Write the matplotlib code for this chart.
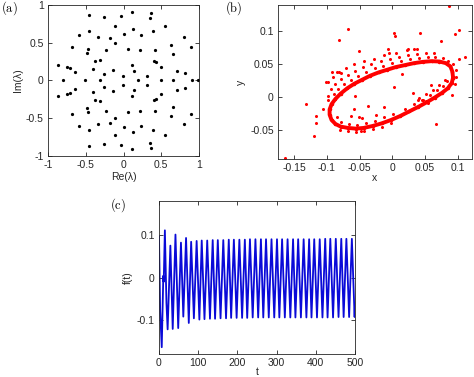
import matplotlib
matplotlib.use('Agg')
import matplotlib.pyplot as plt
from matplotlib.ticker import FormatStrFormatter

plt.rcParams['font.family'] = ['Liberation Sans', 'DejaVu Sans']
plt.rcParams['axes.unicode_minus'] = False
plt.rcParams['mathtext.fontset'] = 'cm'

# (a) eigenvalues: upper half, real axis, lower half
eig_re = [-0.452, -0.259, -0.035, 0.110, 0.346, 0.368,
          -0.583, -0.452, -0.118, 0.127, 0.395, 0.548,
          -0.333, -0.184, 0.013, 0.228, 0.800,
          -0.684, -0.474, -0.478, -0.118, -0.228, 0.053, 0.224, 0.416, 0.889, 0.627, 0.653,
          -0.864, -0.746, -0.702, -0.640, -0.377, -0.307, -0.404, -0.263, -0.140, 0.109,
          0.145, 0.408, 0.429, 0.491, 0.714, 0.816, 0.311, -0.013,
          -0.803, -0.513, -0.307, 0.189, 0.491, 0.653, 0.908, 0.985,
          -0.452, -0.259, -0.035, 0.110, 0.346, 0.368,
          -0.583, -0.452, -0.118, 0.127, 0.395, 0.548,
          -0.333, -0.184, 0.013, 0.228, 0.800,
          -0.684, -0.474, -0.478, -0.118, -0.228, 0.053, 0.224, 0.416, 0.889, 0.627, 0.653,
          -0.864, -0.746, -0.702, -0.640, -0.377, -0.307, -0.404, -0.263, -0.140, 0.109,
          0.145, 0.408, 0.429, 0.491, 0.714, 0.816, 0.311, -0.013]
eig_im = [0.867, 0.836, 0.849, 0.907, 0.831, 0.898,
          0.604, 0.658, 0.716, 0.686, 0.655, 0.720,
          0.573, 0.569, 0.620, 0.598, 0.580,
          0.440, 0.422, 0.369, 0.493, 0.409, 0.417, 0.400, 0.404, 0.448, 0.474, 0.347,
          0.204, 0.178, 0.160, 0.107, 0.258, 0.276, 0.156, 0.080, 0.133, 0.210,
          0.126, 0.258, 0.245, 0.183, 0.126, 0.104, 0.055, 0.055,
          0, 0, 0, 0, 0, 0, 0, 0,
          -0.867, -0.836, -0.849, -0.907, -0.831, -0.898,
          -0.604, -0.658, -0.716, -0.686, -0.655, -0.720,
          -0.573, -0.569, -0.620, -0.598, -0.580,
          -0.440, -0.422, -0.369, -0.493, -0.409, -0.417, -0.400, -0.404, -0.448, -0.474, -0.347,
          -0.204, -0.178, -0.160, -0.107, -0.258, -0.276, -0.156, -0.080, -0.133, -0.210,
          -0.126, -0.258, -0.245, -0.183, -0.126, -0.104, -0.055, -0.055]

# (b) limit cycle
ring_x = [0.093, 0.092, 0.089, 0.082, 0.072, 0.060, 0.047, 0.033, 0.019, 0.005, -0.008,
          -0.021, -0.034, -0.046, -0.058, -0.069, -0.079, -0.087, -0.093, -0.096, -0.096,
          -0.093, -0.087, -0.079, -0.068, -0.056, -0.044, -0.030, -0.016, -0.002, 0.012,
          0.026, 0.040, 0.053, 0.065, 0.076, 0.085, 0.091, 0.093]
ring_y = [0.029, 0.038, 0.046, 0.051, 0.0535, 0.054, 0.053, 0.051, 0.048, 0.045, 0.041,
          0.037, 0.032, 0.026, 0.020, 0.013, 0.005, -0.003, -0.011, -0.019, -0.027,
          -0.035, -0.041, -0.045, -0.047, -0.048, -0.047, -0.044, -0.040, -0.035, -0.029,
          -0.022, -0.015, -0.008, -0.001, 0.006, 0.013, 0.021, 0.029]
# transient points hugging the cycle
fringe_x = [-0.090, -0.083, -0.074, -0.063, -0.052, -0.040, -0.027, -0.014, -0.001, 0.013,
            0.027, 0.041, 0.054, 0.066, 0.078,
            -0.094, -0.088, -0.079, -0.068, -0.057, -0.045, -0.032, -0.018, -0.004, 0.010,
            0.024, 0.038, 0.052, 0.064,
            -0.098, -0.091, -0.082, -0.071, -0.058, -0.044, -0.028, -0.012, 0.006, 0.022, 0.038,
            0.096, 0.098, 0.097, 0.093, 0.086,
            -0.080, -0.068, -0.056, -0.043, -0.030, -0.016, -0.002,
            0.020, 0.033, 0.046, 0.058, 0.069, 0.078, 0.084,
            0.040, 0.052, 0.063, 0.072, 0.080,
            -0.085, -0.078, -0.066, -0.054, -0.040, -0.027, -0.013, 0.001]
fringe_y = [0.004, 0.012, 0.019, 0.026, 0.032, 0.038, 0.043, 0.047, 0.051, 0.054,
            0.057, 0.059, 0.060, 0.060, 0.059,
            0.012, 0.020, 0.027, 0.033, 0.039, 0.045, 0.050, 0.054, 0.058, 0.061,
            0.063, 0.065, 0.066, 0.066,
            0.022, 0.030, 0.037, 0.044, 0.049, 0.055, 0.058, 0.063, 0.066, 0.071, 0.073,
            0.020, 0.030, 0.040, 0.050, 0.055,
            -0.050, -0.052, -0.053, -0.052, -0.049, -0.045, -0.040,
            -0.018, -0.011, -0.004, 0.003, 0.010, 0.017, 0.024,
            -0.004, 0.004, 0.011, 0.018, 0.026,
            -0.030, -0.038, -0.041, -0.042, -0.040, -0.036, -0.031, -0.026]
out_x = [-0.0685, -0.0813, -0.0513, -0.1325, -0.117, -0.117, -0.120, -0.164, -0.102, -0.092,
         -0.084, -0.078, -0.099, -0.098, -0.1056, -0.0574, -0.059, -0.037, -0.0635, -0.051,
         -0.046, -0.048, 0.0025, 0.0036, 0.043, 0.096, 0.1025, 0.087, 0.0746, -0.0066,
         -0.0056, 0.024, 0.0325, 0.1015, 0.1117, 0.0153, 0.002, 0.0315, 0.059, 0.0914,
         -0.0127, 0.067, 0.0406, 0.0467, 0.052, 0.0543, -0.0244]
out_y = [0.102, 0.0868, 0.069, -0.0101, -0.0283, -0.039, -0.0596, -0.093, 0.0232, 0.038,
         0.038, 0.036, 0.001, -0.004, -0.0177, 0.001, -0.019, -0.014, -0.029, -0.030,
         -0.032, -0.0515, 0.096, 0.092, 0.096, 0.095, 0.101, 0.138, 0.084, 0.0717,
         0.0667, 0.0717, 0.0727, 0.058, 0.0606, 0.0353, 0.015, 0.006, 0.0187, 0.0025,
         -0.0157, -0.041, -0.0015, -0.004, -0.0066, -0.009, -0.0278]

# (c) output signal, successive extrema
t_pts = [0, 3, 7, 11, 12, 15, 19, 22, 29, 35, 42, 49, 56, 62, 69, 76, 82, 89, 96, 103,
         109, 116, 123, 130, 137, 143, 150, 157, 164, 171, 178, 184, 191, 198, 205, 212,
         219, 225, 232, 239, 246, 253, 260, 266, 273, 280, 287, 294, 301, 307, 314, 321,
         328, 335, 342, 348, 355, 362, 369, 376, 383, 389, 396, 403, 410, 417, 424, 430,
         437, 444, 451, 458, 465, 471, 478, 485, 492, 499, 500]
f_pts = [0.097, -0.08, -0.164, 0.004, -0.01, 0.111, -0.06, -0.122, 0.075, -0.121, 0.101,
         -0.119, 0.082, -0.092, 0.093, -0.107, 0.084, -0.096, 0.086, -0.099,
         0.087, -0.098, 0.087, -0.097, 0.088, -0.097, 0.088, -0.096, 0.088, -0.096, 0.089,
         -0.095, 0.089, -0.095, 0.089, -0.095, 0.089, -0.095, 0.090, -0.094, 0.090, -0.094,
         0.090, -0.094, 0.090, -0.094, 0.090, -0.094, 0.090, -0.094, 0.090, -0.094,
         0.090, -0.094, 0.090, -0.094, 0.090, -0.094, 0.090, -0.094, 0.090, -0.094,
         0.090, -0.094, 0.090, -0.094, 0.091, -0.094, 0.091, -0.094, 0.091, -0.093,
         0.091, -0.093, 0.091, -0.093, 0.091, -0.093, -0.06]

edge = '#262626'
fs = 7.5


def matlab_axes(ax):
    for s in ax.spines.values():
        s.set_color(edge)
        s.set_linewidth(0.6)
    ax.tick_params(direction='in', top=True, right=True, length=3, width=0.6,
                   color=edge, labelsize=fs, labelcolor=edge, pad=3)


fig = plt.figure(figsize=(4.74, 3.77), dpi=100)

# (a)
ax1 = fig.add_axes([48/474, 1-156/377, 151/474, 151/377])
ax1.plot(eig_re, eig_im, '.', color='k', markersize=2.6)
ax1.set_xlim(-1, 1)
ax1.set_ylim(-1, 1)
ax1.set_xticks([-1, -0.5, 0, 0.5, 1])
ax1.set_yticks([-1, -0.5, 0, 0.5, 1])
ax1.xaxis.set_major_formatter(FormatStrFormatter('%g'))
ax1.yaxis.set_major_formatter(FormatStrFormatter('%g'))
matlab_axes(ax1)
ax1.set_xlabel('Re(λ)', fontsize=fs, color=edge, labelpad=1)
ax1.set_ylabel('Im(λ)', fontsize=fs, color=edge, labelpad=2)

# (b)
ax2 = fig.add_axes([278/474, 1-159/377, 194/474, 154/377])
ax2.plot(ring_x, ring_y, '-', color='red', linewidth=2.8)
ax2.plot(ring_x, ring_y, '.', color='red', markersize=3)
ax2.plot(fringe_x, fringe_y, '.', color='red', markersize=2.4)
ax2.plot(out_x, out_y, '.', color='red', markersize=2.4)
ax2.set_xlim(-0.175, 0.122)
ax2.set_ylim(-0.094, 0.139)
ax2.set_xticks([-0.15, -0.1, -0.05, 0, 0.05, 0.1])
ax2.set_yticks([-0.05, 0, 0.05, 0.1])
ax2.xaxis.set_major_formatter(FormatStrFormatter('%g'))
ax2.yaxis.set_major_formatter(FormatStrFormatter('%g'))
matlab_axes(ax2)
ax2.set_xlabel('x', fontsize=fs, color=edge, labelpad=0)
ax2.set_ylabel('y', fontsize=fs, color=edge, labelpad=3)

# (c)
ax3 = fig.add_axes([159/474, 1-354/377, 196/474, 153/377])
ax3.plot(t_pts, f_pts, '-', color='#0a0ad8', linewidth=1.3)
ax3.set_xlim(0, 500)
ax3.set_ylim(-0.18, 0.18)
ax3.set_xticks([0, 100, 200, 300, 400, 500])
ax3.set_yticks([-0.1, 0, 0.1])
ax3.yaxis.set_major_formatter(FormatStrFormatter('%g'))
matlab_axes(ax3)
ax3.set_xlabel('t', fontsize=fs, color=edge, labelpad=-1)
ax3.set_ylabel('f(t)', fontsize=fs, color=edge, labelpad=3)

fig.text(9/474, 1-8/377, r'$\mathrm{(a)}$', fontsize=9, ha='center', va='center')
fig.text(234/474, 1-8/377, r'$\mathrm{(b)}$', fontsize=9, ha='center', va='center')
fig.text(118/474, 1-205/377, r'$\mathrm{(c)}$', fontsize=9, ha='center', va='center')

fig.savefig('out.png', dpi=100)
